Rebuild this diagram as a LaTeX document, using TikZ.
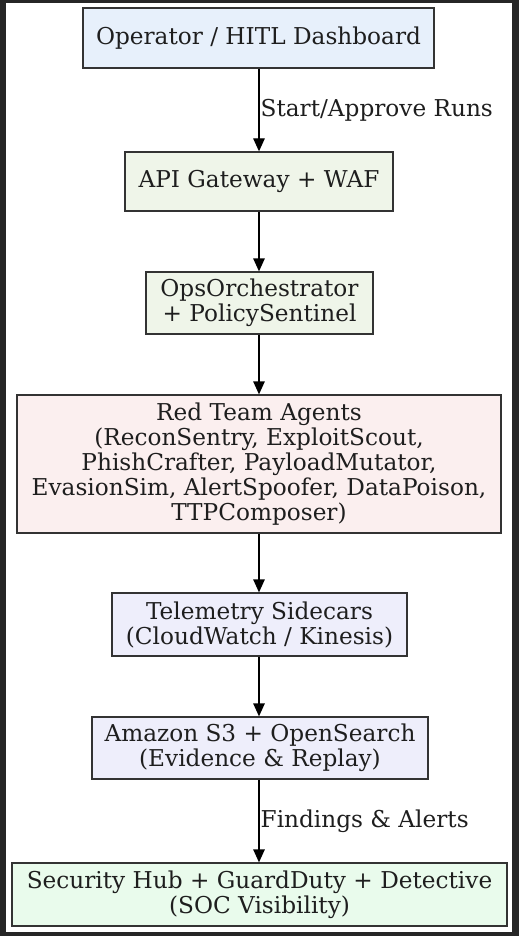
\documentclass[tikz,border=0pt]{standalone}
\usepackage{fontspec}
\setmainfont{DejaVu Serif}
\usetikzlibrary{arrows.meta}
\definecolor{frame}{HTML}{262626}
\definecolor{ink}{HTML}{1E1E1E}
\definecolor{edgec}{HTML}{333333}
\definecolor{fblue}{HTML}{E7F0FB}
\definecolor{fgreen}{HTML}{EFF5E9}
\definecolor{fred}{HTML}{FBEFEF}
\definecolor{flav}{HTML}{EEEEFB}
\definecolor{fmint}{HTML}{E9FBEC}
\tikzset{
  box/.style={draw=edgec, line width=1.3pt, text=ink, align=center, inner sep=0pt,
    font=\fontsize{23.2}{25}\selectfont},
  flow/.style={draw=black, line width=1.3pt, -{Triangle[length=13pt,width=11.5pt]}},
  elabel/.style={text=ink, font=\fontsize{23.2}{25}\selectfont, inner sep=1pt, anchor=west}
}
\begin{document}
\begin{tikzpicture}[x=1pt,y=-1pt]
\fill[frame] (0,0) rectangle (519,936);
\fill[white] (6,3) rectangle (512,932);
\useasboundingbox (0,0) rectangle (519,936);
\node[box, fill=fblue, minimum width=351pt, minimum height=60pt] (op) at (258.5,38) {Operator / HITL Dashboard};
\node[box, fill=fgreen, minimum width=268pt, minimum height=59pt] (api) at (259,181.5) {API Gateway + WAF};
\node[box, fill=fgreen, minimum width=227pt, minimum height=62pt] (ops) at (259.5,303) {OpsOrchestrator\\+ PolicySentinel};
\node[box, fill=fred, minimum width=484pt, minimum height=138pt] (red) at (259,464) {Red Team Agents\\(ReconSentry, ExploitScout,\\PhishCrafter, PayloadMutator,\\EvasionSim, AlertSpoofer, DataPoison,\\TTPComposer)};
\node[box, fill=flav, minimum width=295pt, minimum height=63pt] (tel) at (259.5,624.5) {Telemetry Sidecars\\(CloudWatch / Kinesis)};
\node[box, fill=flav, minimum width=336pt, minimum height=62pt] (s3) at (260,748) {Amazon S3 + OpenSearch\\(Evidence \& Replay)};
\node[box, fill=fmint, minimum width=495pt, minimum height=63pt] (sec) at (259.5,894.5) {Security Hub + GuardDuty + Detective\\(SOC Visibility)};
\draw[flow] (op.south -| 259,0) -- node[elabel, pos=0.5] {Start/Approve Runs} (api.north -| 259,0);
\draw[flow] (api.south -| 259,0) -- (ops.north -| 259,0);
\draw[flow] (ops.south -| 259,0) -- (red.north -| 259,0);
\draw[flow] (red.south -| 259,0) -- (tel.north -| 259,0);
\draw[flow] (tel.south -| 259,0) -- (s3.north -| 259,0);
\draw[flow] (s3.south -| 259,0) -- node[elabel, pos=0.5] {Findings \& Alerts} (sec.north -| 259,0);
\end{tikzpicture}
\end{document}
